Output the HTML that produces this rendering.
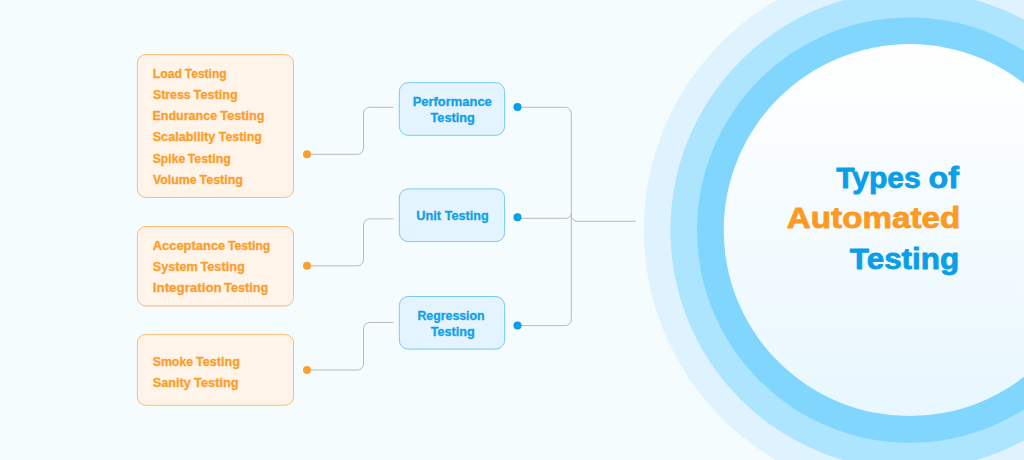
<!DOCTYPE html>
<html lang="en">
<head>
<meta charset="utf-8">
<title>Types of Automated Testing</title>
<style>
html,body{margin:0;padding:0;background:#f4fcfe;}
body{width:1024px;height:460px;overflow:hidden;position:relative;font-family:"Liberation Sans",sans-serif;}
svg{position:absolute;left:0;top:0;display:block;}
text{font-family:"Liberation Sans",sans-serif;font-weight:bold;}
.o{fill:#fc9e2c;stroke:#fc9e2c;stroke-width:0.3px;font-size:12.4px;}
.b{fill:#10a0e8;stroke:#10a0e8;stroke-width:0.3px;font-size:12.6px;}
.t{font-size:29.5px;stroke-width:0.8px;stroke-linejoin:round;}
</style>
</head>
<body>
<svg width="1024" height="460" viewBox="0 0 1024 460">
  <defs>
    <linearGradient id="bg" x1="0" y1="0" x2="1" y2="1">
      <stop offset="0" stop-color="#f5fcfe"/>
      <stop offset="1" stop-color="#f5fcfe"/>
    </linearGradient>
    <linearGradient id="inner" x1="0" y1="0" x2="0" y2="1">
      <stop offset="0" stop-color="#ffffff"/>
      <stop offset="1" stop-color="#e8f7fe"/>
    </linearGradient>
  </defs>
  <rect width="1024" height="460" fill="url(#bg)"/>

  <!-- circles -->
  <circle cx="909.7" cy="230.1" r="265.95" fill="#dff3fe"/>
  <circle cx="909.7" cy="230.1" r="239.3" fill="#ade4fe"/>
  <circle cx="909.7" cy="230.1" r="212.65" fill="#80d6fd"/>
  <circle cx="909.7" cy="230.1" r="186" fill="url(#inner)"/>

  <!-- connectors -->
  <g fill="none" stroke="#bababa" stroke-width="1">
    <path d="M307 154.3 H357.5 A6 6 0 0 0 363.5 148.3 V113.3 A6 6 0 0 1 369.5 107.3 H393.5"/>
    <path d="M307 265.8 H357.5 A6 6 0 0 0 363.5 259.8 V224.9 A6 6 0 0 1 369.5 218.9 H393.5"/>
    <path d="M307 370 H357.5 A6 6 0 0 0 363.5 364 V328.5 A6 6 0 0 1 369.5 322.5 H393.5"/>
    <path d="M517.5 107.3 H565.3 A6 6 0 0 1 571.3 113.3 V215.3 A6 6 0 0 0 577.3 221.3 H635.8"/>
    <path d="M517.5 218.3 H566.3 A5 5 0 0 0 571.3 213.3"/>
    <path d="M517.5 325.6 H565.3 A6 6 0 0 0 571.3 319.6 V215"/>
  </g>

  <!-- orange boxes -->
  <g fill="#fff4ea" stroke="#fbbb74" stroke-width="1">
    <rect x="137.4" y="54.6" width="156.1" height="142.8" rx="8.5"/>
    <rect x="137.4" y="226.5" width="156.1" height="79.5" rx="8.5"/>
    <rect x="137.4" y="334.4" width="156.1" height="70.9" rx="8.5"/>
  </g>
  <g fill="#fba02f">
    <circle cx="307" cy="154.2" r="4"/>
    <circle cx="307" cy="265.8" r="4"/>
    <circle cx="307" cy="369.9" r="4"/>
  </g>

  <!-- blue boxes -->
  <g fill="#e3f4fe" stroke="#78caf4" stroke-width="1">
    <rect x="399.3" y="82.6" width="105.3" height="52.7" rx="9"/>
    <rect x="399.3" y="188.9" width="105.3" height="52.7" rx="9"/>
    <rect x="399.3" y="296.5" width="105.3" height="52.6" rx="9"/>
  </g>
  <g fill="#069ee6">
    <circle cx="517.5" cy="107.1" r="4"/>
    <circle cx="517.5" cy="217.3" r="4"/>
    <circle cx="517.5" cy="325.6" r="4"/>
  </g>

  <!-- text -->
  <g class="o">
    <text y="77.6"><tspan x="152.63" textLength="29.46" lengthAdjust="spacingAndGlyphs">Load</tspan> <tspan x="184.75" textLength="41.87" lengthAdjust="spacingAndGlyphs">Testing</tspan></text>
    <text y="98.7"><tspan x="152.91" textLength="37.69" lengthAdjust="spacingAndGlyphs">Stress</tspan> <tspan x="193.63" textLength="44.01" lengthAdjust="spacingAndGlyphs">Testing</tspan></text>
    <text y="119.9"><tspan x="152.42" textLength="64.80" lengthAdjust="spacingAndGlyphs">Endurance</tspan> <tspan x="220.33" textLength="44.21" lengthAdjust="spacingAndGlyphs">Testing</tspan></text>
    <text y="141.3"><tspan x="152.70" textLength="62.52" lengthAdjust="spacingAndGlyphs">Scalability</tspan> <tspan x="218.74" textLength="43.19" lengthAdjust="spacingAndGlyphs">Testing</tspan></text>
    <text y="162.8"><tspan x="152.71" textLength="32.49" lengthAdjust="spacingAndGlyphs">Spike</tspan> <tspan x="187.74" textLength="42.99" lengthAdjust="spacingAndGlyphs">Testing</tspan></text>
    <text y="184.0"><tspan x="152.90" textLength="43.71" lengthAdjust="spacingAndGlyphs">Volume</tspan> <tspan x="199.54" textLength="43.40" lengthAdjust="spacingAndGlyphs">Testing</tspan></text>
    <text y="249.6"><tspan x="152.70" textLength="72.62" lengthAdjust="spacingAndGlyphs">Acceptance</tspan> <tspan x="227.94" textLength="42.28" lengthAdjust="spacingAndGlyphs">Testing</tspan></text>
    <text y="270.9"><tspan x="152.70" textLength="45.07" lengthAdjust="spacingAndGlyphs">System</tspan> <tspan x="200.43" textLength="44.42" lengthAdjust="spacingAndGlyphs">Testing</tspan></text>
    <text y="292.2"><tspan x="152.77" textLength="68.98" lengthAdjust="spacingAndGlyphs">Integration</tspan> <tspan x="224.13" textLength="44.11" lengthAdjust="spacingAndGlyphs">Testing</tspan></text>
    <text y="365.5"><tspan x="152.71" textLength="40.40" lengthAdjust="spacingAndGlyphs">Smoke</tspan> <tspan x="196.04" textLength="43.80" lengthAdjust="spacingAndGlyphs">Testing</tspan></text>
    <text y="386.8"><tspan x="152.70" textLength="38.02" lengthAdjust="spacingAndGlyphs">Sanity</tspan> <tspan x="194.13" textLength="44.52" lengthAdjust="spacingAndGlyphs">Testing</tspan></text>
  </g>
  <g class="b">
    <text x="412.69" y="105.7" textLength="79.13" lengthAdjust="spacingAndGlyphs">Performance</text>
    <text x="430.53" y="121.8" textLength="44.21" lengthAdjust="spacingAndGlyphs">Testing</text>
    <text y="220.3"><tspan x="416.30" textLength="24.76" lengthAdjust="spacingAndGlyphs">Unit</tspan> <tspan x="444.74" textLength="43.91" lengthAdjust="spacingAndGlyphs">Testing</tspan></text>
    <text x="417.43" y="319.6" textLength="67.17" lengthAdjust="spacingAndGlyphs">Regression</text>
    <text x="430.63" y="335.5" textLength="44.01" lengthAdjust="spacingAndGlyphs">Testing</text>
  </g>
  <g class="t">
    <text y="188.35" fill="#0a9ee8" stroke="#0a9ee8"><tspan x="836.17" textLength="84.62" lengthAdjust="spacingAndGlyphs">Types</tspan> <tspan x="928.49" textLength="30.36" lengthAdjust="spacingAndGlyphs">of</tspan></text>
    <text x="786.88" y="228.4" fill="#fd9a21" stroke="#fd9a21" textLength="173.34" lengthAdjust="spacingAndGlyphs">Automated</text>
    <text x="849.84" y="268.5" fill="#0a9ee8" stroke="#0a9ee8" textLength="109.31" lengthAdjust="spacingAndGlyphs">Testing</text>
  </g>
</svg>
</body>
</html>
